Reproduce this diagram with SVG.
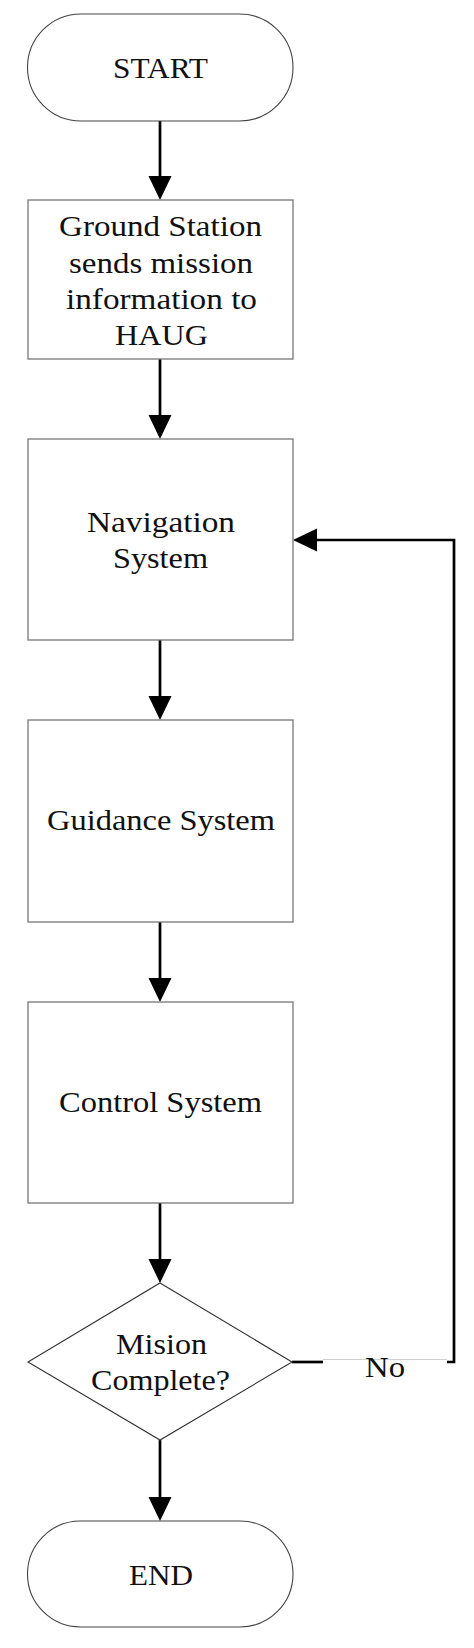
<svg xmlns="http://www.w3.org/2000/svg" width="474" height="1648" viewBox="0 0 474 1648">
  <style>
    .box { fill: #ffffff; stroke: #777777; stroke-width: 1.3; }
    .term { fill: #ffffff; stroke: #444444; stroke-width: 1.1; }
    .dia { fill: #ffffff; stroke: #333333; stroke-width: 1.1; }
    .lbl { font-family: "Liberation Serif", "Times New Roman", serif; font-size: 30px; fill: #111111; text-anchor: middle; }
    .conn { fill: none; stroke: #000000; stroke-width: 2.7; }
    .thin { fill: none; stroke: #d0d0d0; stroke-width: 1; }
  </style>
  <defs>
    <marker id="arr" markerUnits="userSpaceOnUse" markerWidth="25" markerHeight="24" refX="19" refY="11.5" orient="auto">
      <path d="M0,0 L24,11.5 L0,23 z" fill="#000000"/>
    </marker>
  </defs>
  <rect width="474" height="1648" fill="#ffffff"/>

  <g id="connectors">
    <line class="conn" x1="160" y1="121" x2="160" y2="195" marker-end="url(#arr)"/>
    <line class="conn" x1="160" y1="359" x2="160" y2="434" marker-end="url(#arr)"/>
    <line class="conn" x1="160" y1="640" x2="160" y2="715" marker-end="url(#arr)"/>
    <line class="conn" x1="160" y1="922" x2="160" y2="997" marker-end="url(#arr)"/>
    <line class="conn" x1="160" y1="1203" x2="160" y2="1278" marker-end="url(#arr)"/>
    <line class="conn" x1="160" y1="1440" x2="160" y2="1516" marker-end="url(#arr)"/>
    <line class="conn" x1="292" y1="1362" x2="323" y2="1362"/>
    <line class="thin" x1="323" y1="1359.5" x2="447" y2="1359.5"/>
    <path class="conn" d="M447,1362 H454 V540 H298" marker-end="url(#arr)"/>
    <text class="lbl" x="385" y="1377" textLength="40" lengthAdjust="spacingAndGlyphs">No</text>
  </g>

  <g id="start">
    <rect class="term" x="27.5" y="14" width="265.5" height="107" rx="53.5" ry="53.5"/>
    <text class="lbl" x="160.5" y="78" textLength="95" lengthAdjust="spacingAndGlyphs">START</text>
  </g>

  <g id="ground-station">
    <rect class="box" x="28" y="200" width="265" height="159"/>
    <text class="lbl" x="160.5" y="236" textLength="203" lengthAdjust="spacingAndGlyphs">Ground Station</text>
    <text class="lbl" x="161" y="273" textLength="184" lengthAdjust="spacingAndGlyphs">sends mission</text>
    <text class="lbl" x="161.5" y="309" textLength="191" lengthAdjust="spacingAndGlyphs">information to</text>
    <text class="lbl" x="161.5" y="345" textLength="93" lengthAdjust="spacingAndGlyphs">HAUG</text>
  </g>

  <g id="navigation">
    <rect class="box" x="28" y="439" width="265" height="201"/>
    <text class="lbl" x="161" y="532" textLength="148" lengthAdjust="spacingAndGlyphs">Navigation</text>
    <text class="lbl" x="160.5" y="568" textLength="95" lengthAdjust="spacingAndGlyphs">System</text>
  </g>

  <g id="guidance">
    <rect class="box" x="28" y="720" width="265" height="202"/>
    <text class="lbl" x="161" y="830" textLength="228" lengthAdjust="spacingAndGlyphs">Guidance System</text>
  </g>

  <g id="control">
    <rect class="box" x="28" y="1002" width="265" height="201"/>
    <text class="lbl" x="160.5" y="1112" textLength="203" lengthAdjust="spacingAndGlyphs">Control System</text>
  </g>

  <g id="decision">
    <polygon class="dia" points="160,1283 292,1362 160,1440 28,1362"/>
    <text class="lbl" x="161.5" y="1354" textLength="91" lengthAdjust="spacingAndGlyphs">Mision</text>
    <text class="lbl" x="160.5" y="1390" textLength="139" lengthAdjust="spacingAndGlyphs">Complete?</text>
  </g>

  <g id="end">
    <rect class="term" x="27.5" y="1521" width="265.5" height="106" rx="53" ry="53"/>
    <text class="lbl" x="161" y="1585" textLength="64" lengthAdjust="spacingAndGlyphs">END</text>
  </g>
</svg>
